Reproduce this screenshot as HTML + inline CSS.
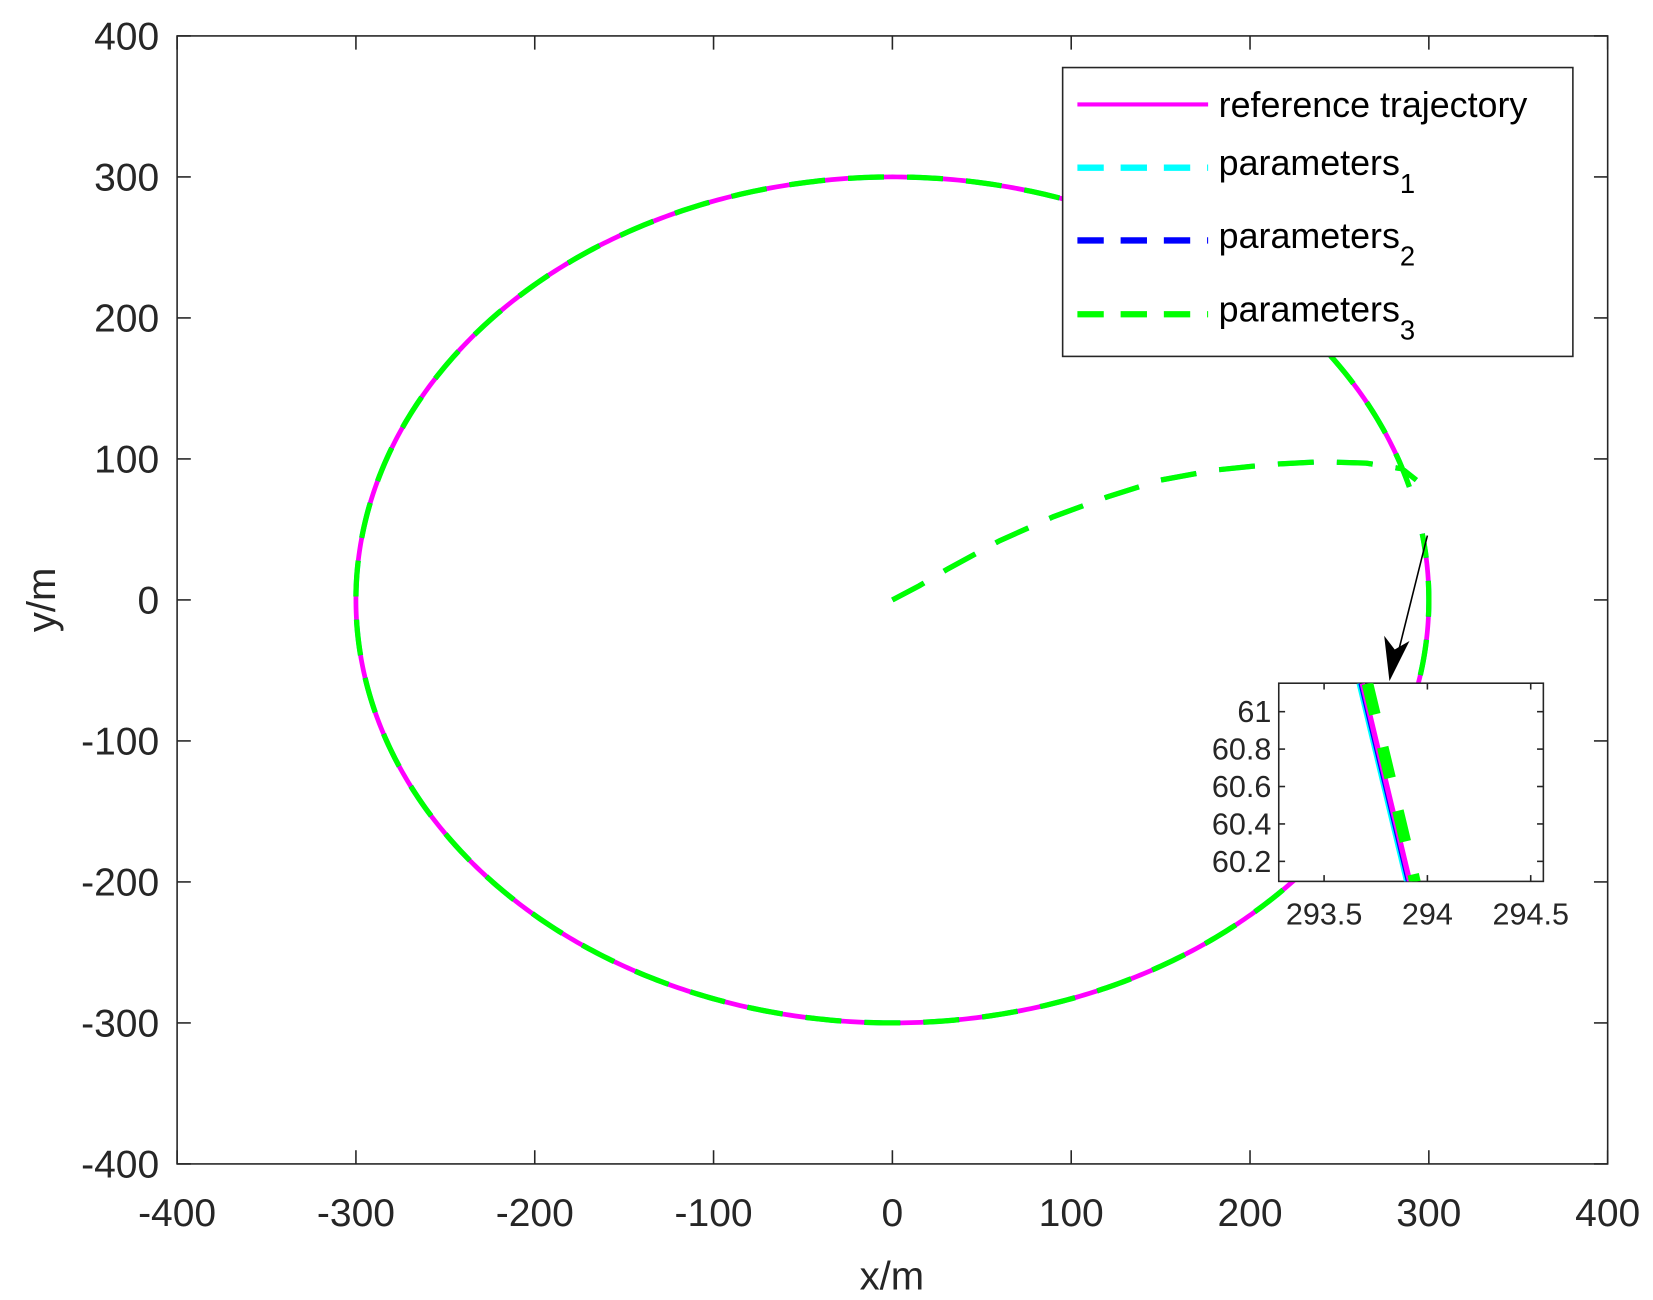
<!DOCTYPE html>
<html><head><meta charset="utf-8"><style>
html,body{margin:0;padding:0;background:#fff;}
svg{display:block;font-family:"Liberation Sans",Arial,sans-serif;}
</style></head><body>
<svg id="chart" width="1653" height="1300" viewBox="0 0 1568 1233" xmlns="http://www.w3.org/2000/svg">
<defs><clipPath id="insetClip"><rect x="1213" y="648" width="251" height="188"/></clipPath></defs>
<rect x="168" y="34" width="1357" height="1070" fill="#fff" stroke="#262626" stroke-width="1.5"/>
<g id="ticks"></g>
<g id="series"></g>
<text x="846" y="1223" font-size="38" text-anchor="middle" fill="#262626">x/m</text>
<text x="0" y="0" font-size="38" text-anchor="middle" fill="#262626" transform="translate(52,569) rotate(-90)">y/m</text>
<g id="legend">
<rect x="1008" y="64" width="484" height="274" fill="#fff" stroke="#262626" stroke-width="1.5"/>
<line x1="1022" y1="99" x2="1146" y2="99" stroke="#ff00ff" stroke-width="4"/>
<text x="1156" y="111" font-size="34" fill="#000">reference trajectory</text>
<line x1="1022" y1="159" x2="1146" y2="159" stroke="#00ffff" stroke-width="6" stroke-dasharray="25,16"/>
<text x="1156" y="166" font-size="34" fill="#000">parameters<tspan font-size="26" dy="17">1</tspan></text>
<line x1="1022" y1="228" x2="1146" y2="228" stroke="#0000ff" stroke-width="6" stroke-dasharray="25,16"/>
<text x="1156" y="235" font-size="34" fill="#000">parameters<tspan font-size="26" dy="17">2</tspan></text>
<line x1="1022" y1="298" x2="1146" y2="298" stroke="#00ff00" stroke-width="6" stroke-dasharray="25,16"/>
<text x="1156" y="305" font-size="34" fill="#000">parameters<tspan font-size="26" dy="17">3</tspan></text>
</g>
<line x1="1354" y1="508" x2="1326" y2="620" stroke="#000" stroke-width="1.5"/>
<polygon points="1318,646 1313,603 1323,616 1337,608" fill="#000"/>
<rect x="1213" y="648" width="251" height="188" fill="#fff" stroke="#262626" stroke-width="1.5"/>
<g id="inset"></g>
</svg>
<script>
const xTicks=[-400,-300,-200,-100,0,100,200,300,400];
const yTicks=[-400,-300,-200,-100,0,100,200,300,400];
const circleRadius=300;
const arcStartDeg=15.5, arcEndDeg=369;
const approachX=[0,15,31,60,90,120,150,180,210,240,265,285,293];
const approachY=[0,10,22,42,59,73,85,92,96,98,97,93,85];
const insetXTicks=[293.5,294,294.5];
const insetYTicks=[60.2,60.4,60.6,60.8,61];
const insetRefX=[293.68,293.91];
const insetRefY=[61.15,60.09];
const insetP3X=[293.71,293.94];

const NS="http://www.w3.org/2000/svg";
const X=v=>846.5+(v)*1357/800;
const Y=v=>569-(v)*1070/800;
const IX=v=>1256+(v-293.5)*196;
const IY=v=>675-(v-61)*177.5;
function mk(tag,attrs,parent){const e=document.createElementNS(NS,tag);for(const k in attrs)e.setAttribute(k,attrs[k]);parent.appendChild(e);return e;}
const ticks=document.getElementById('ticks');
xTicks.forEach(t=>{
 const l=mk('line',{x1:X(t),x2:X(t),y1:1104,y2:1091,stroke:'#262626','stroke-width':1.5},ticks);
 
 
 const l2=mk('line',{x1:X(t),x2:X(t),y1:34,y2:47,stroke:'#262626','stroke-width':1.5},ticks);
 
 
 const tx=mk('text',{x:X(t),y:1163,'font-size':37,'text-anchor':'middle',fill:'#262626'},ticks);tx.textContent=t;
 
 
});
yTicks.forEach(t=>{
 const l=mk('line',{x1:168,x2:181,y1:Y(t),y2:Y(t),stroke:'#262626','stroke-width':1.5},ticks);
 
 
 const l2=mk('line',{x1:1512,x2:1525,y1:Y(t),y2:Y(t),stroke:'#262626','stroke-width':1.5},ticks);
 
 
 const tx=mk('text',{x:151,y:Y(t)+13,'font-size':37,'text-anchor':'end',fill:'#262626'},ticks);tx.textContent=t;
 
 
});
const series=document.getElementById('series');
let arcPts=[];
for(let a=arcStartDeg;a<=arcEndDeg;a+=0.5){const r=a*Math.PI/180;arcPts.push(X(circleRadius*Math.cos(r))+','+Y(circleRadius*Math.sin(r)));}
let appPts=approachX.map((x,i)=>X(x)+','+Y(approachY[i]));
const pathD='M'+appPts.join(' L')+' M'+arcPts.join(' L');
const styles=[['#ff00ff',4.5,'none','reference-trajectory'],['#00ffff',5,'34,22','parameters-1'],['#0000ff',4.5,'34,22','parameters-2'],['#00ff00',5,'34,22','parameters-3']];
styles.forEach((s,i)=>{
 const d=i===0?'M'+arcPts.join(' L'):pathD;
 const p=mk('path',{d:d,fill:'none',stroke:s[0],'stroke-width':s[1],'stroke-dasharray':s[2]},series);
 
 
});
const inset=document.getElementById('inset');
const ig=mk('g',{'clip-path':'url(#insetClip)'},inset);


const c1=mk('line',{x1:IX(insetRefX[0])-3,y1:IY(insetRefY[0]),x2:IX(insetRefX[1])-3,y2:IY(insetRefY[1]),stroke:'#00ffff','stroke-width':3},ig);


const c2=mk('line',{x1:IX(insetRefX[0])-2,y1:IY(insetRefY[0]),x2:IX(insetRefX[1])-2,y2:IY(insetRefY[1]),stroke:'#0000ff','stroke-width':1.5},ig);


const c0=mk('line',{x1:IX(insetRefX[0])+1,y1:IY(insetRefY[0]),x2:IX(insetRefX[1])+1,y2:IY(insetRefY[1]),stroke:'#ff00ff','stroke-width':5},ig);


const c3=mk('line',{x1:IX(insetP3X[0]),y1:IY(insetRefY[0]),x2:IX(insetP3X[1]),y2:IY(insetRefY[1]),stroke:'#00ff00','stroke-width':11,'stroke-dasharray':'30,32'},ig);


insetXTicks.forEach(t=>{
 const l=mk('line',{x1:IX(t),x2:IX(t),y1:836,y2:830,stroke:'#262626','stroke-width':1.5},inset);
 
 
 const l2=mk('line',{x1:IX(t),x2:IX(t),y1:648,y2:654,stroke:'#262626','stroke-width':1.5},inset);
 
 
 const tx=mk('text',{x:IX(t),y:877,'font-size':29,'text-anchor':'middle',fill:'#262626'},inset);tx.textContent=t;
 
 
});
insetYTicks.forEach(t=>{
 const l=mk('line',{x1:1213,x2:1219,y1:IY(t),y2:IY(t),stroke:'#262626','stroke-width':1.5},inset);
 
 
 const l2=mk('line',{x1:1458,x2:1464,y1:IY(t),y2:IY(t),stroke:'#262626','stroke-width':1.5},inset);
 
 
 const tx=mk('text',{x:1206,y:IY(t)+10,'font-size':29,'text-anchor':'end',fill:'#262626'},inset);tx.textContent=t;
 
 
});
</script>
</body></html>
